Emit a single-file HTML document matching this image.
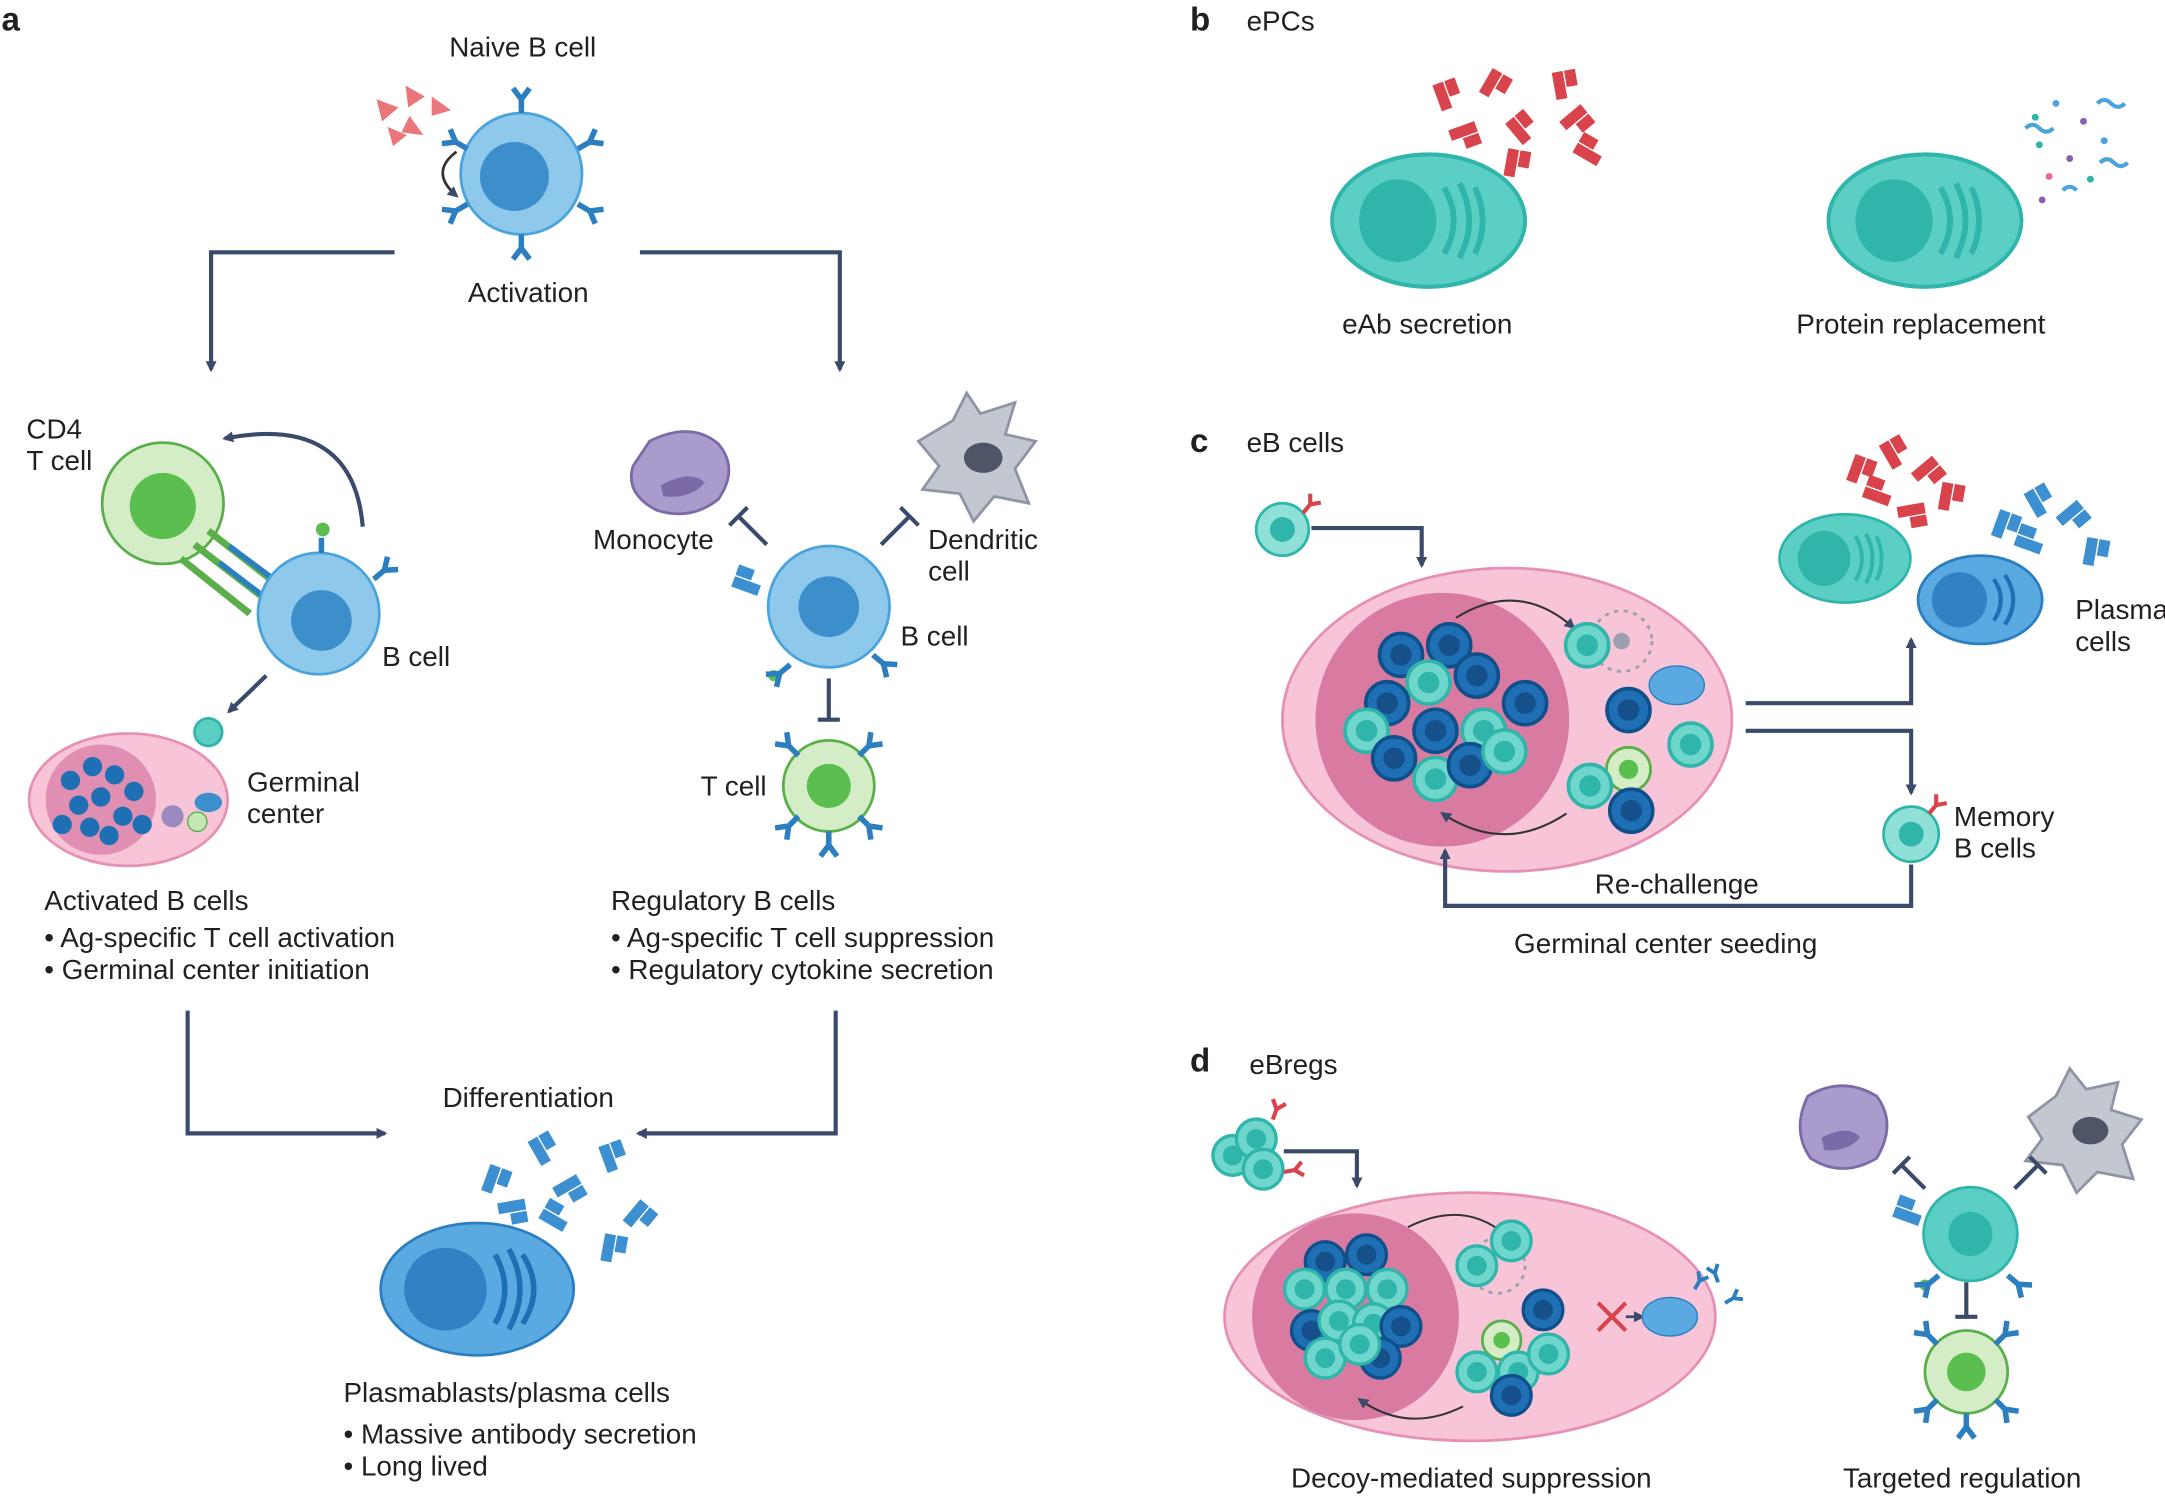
<!DOCTYPE html>
<html><head><meta charset="utf-8"><style>
html,body{margin:0;padding:0;background:#fff}
svg{display:block}
text{font-family:"Liberation Sans",sans-serif;fill:#231f20;font-size:20.2px}
.b{font-weight:bold;font-size:24px}
</style></head><body>
<svg width="2165" height="1496" viewBox="0 0 1568 1085" xmlns="http://www.w3.org/2000/svg">
<defs>
<marker id="ar" markerWidth="8" markerHeight="8" refX="6" refY="4" orient="auto" markerUnits="userSpaceOnUse"><path d="M0,0 L8,4 L0,8 Z" fill="#3a4a6b"/></marker>
<g id="ab"><path d="M0,0 L0,-10 M0,-10 L-6,-18 M0,-10 L6,-18" stroke="#2b7fc0" stroke-width="4" fill="none"/></g>
<g id="abr"><path d="M0,0 L0,-8 M0,-8 L-5,-14 M0,-8 L5,-14" stroke="#d9434b" stroke-width="3" fill="none"/></g>
<g id="fab"><rect x="-4" y="-10" width="8" height="20" fill="#3c8fd0"/><rect x="5" y="-10" width="8" height="12" fill="#3c8fd0"/></g>
<g id="fabr"><rect x="-4" y="-10" width="8" height="20" fill="#d9434b"/><rect x="5" y="-10" width="8" height="12" fill="#d9434b"/></g>
<g id="bc"><circle r="12" fill="#1f6fb5" stroke="#0f4f8a" stroke-width="2"/><circle r="6" fill="#15508a"/></g>
<g id="tc"><circle r="12" fill="#6fd6cc" stroke="#2fb5aa" stroke-width="2"/><circle r="6" fill="#2fb5aa"/></g>
<g id="pcT"><ellipse rx="50" ry="32" fill="#5ccfc4" stroke="#2fb5aa" stroke-width="2"/><circle cx="-16" cy="0" r="20" fill="#2fb5aa"/><path d="M8,-16 Q18,0 8,16 M16,-18 Q26,0 16,18 M24,-16 Q32,0 24,16" stroke="#2fb5aa" stroke-width="3" fill="none"/></g>
</defs>

<!-- Panel a -->
<text class="b" x="0" y="22">a</text>
<text x="378" y="41" text-anchor="middle">Naive B cell</text>
<g fill="#e8767a"><path d="M272,72 L288,78 L276,88Z"/><path d="M293,62 L307,70 L295,78Z"/><path d="M312,70 L326,80 L312,84Z"/><path d="M280,92 L294,98 L284,106Z"/><path d="M296,84 L306,98 L290,96Z"/></g>
<path d="M330,110 Q310,125 330,142" stroke="#333" stroke-width="2" fill="none" marker-end="url(#ar)"/>
<circle cx="377" cy="126" r="44" fill="#8ec9ec" stroke="#4aa3dc" stroke-width="2"/>
<circle cx="372" cy="128" r="25" fill="#3d8fcc"/>
<use href="#ab" transform="translate(377,82)"/><use href="#ab" transform="translate(377,170) rotate(180)"/>
<use href="#ab" transform="translate(418,108) rotate(60)"/><use href="#ab" transform="translate(418,148) rotate(120)"/>
<use href="#ab" transform="translate(338,108) rotate(-60)"/><use href="#ab" transform="translate(338,148) rotate(-120)"/>
<text x="382" y="219" text-anchor="middle">Activation</text>
<path d="M285,183 L152,183 L152,268" stroke="#3a4a6b" stroke-width="3" fill="none" marker-end="url(#ar)"/>
<path d="M463,183 L608,183 L608,268" stroke="#3a4a6b" stroke-width="3" fill="none" marker-end="url(#ar)"/>

<text x="18" y="318">CD4</text><text x="18" y="341">T cell</text>
<circle cx="117" cy="365" r="44" fill="#d5edc6" stroke="#5aaf4a" stroke-width="2"/>
<circle cx="117" cy="367" r="24" fill="#5bbf4f"/>
<path d="M262,382 Q255,300 162,318" stroke="#3a4a6b" stroke-width="3" fill="none" marker-end="url(#ar)"/>
<path d="M150,385 L195,420 M140,395 L188,432 M130,405 L180,445" stroke="#5aaf4a" stroke-width="5"/>
<path d="M165,396 L200,422 M158,408 L192,434" stroke="#2b7fc0" stroke-width="4"/>
<circle cx="230" cy="445" r="44" fill="#8ec9ec" stroke="#4aa3dc" stroke-width="2"/>
<circle cx="232" cy="450" r="22" fill="#3d8fcc"/>
<path d="M232,401 L232,390" stroke="#2b7fc0" stroke-width="4"/><circle cx="233" cy="384" r="5" fill="#5bbf4f"/>
<use href="#ab" transform="translate(270,420) rotate(50)"/>
<text x="276" y="483">B cell</text>
<path d="M192,490 L165,516" stroke="#3a4a6b" stroke-width="3" marker-end="url(#ar)"/>
<circle cx="150" cy="531" r="10" fill="#5ccfc4" stroke="#2fb5aa" stroke-width="2"/>
<ellipse cx="92" cy="580" rx="72" ry="48" fill="#f7c4d8" stroke="#e690b5" stroke-width="2"/>
<ellipse cx="72" cy="580" rx="40" ry="40" fill="#e08fb2"/>
<g fill="#1f6fb5"><circle cx="50" cy="566" r="7"/><circle cx="66" cy="556" r="7"/><circle cx="82" cy="562" r="7"/><circle cx="96" cy="574" r="7"/><circle cx="56" cy="584" r="7"/><circle cx="72" cy="578" r="7"/><circle cx="88" cy="592" r="7"/><circle cx="64" cy="600" r="7"/><circle cx="44" cy="598" r="7"/><circle cx="78" cy="606" r="7"/><circle cx="102" cy="598" r="7"/></g>
<circle cx="124" cy="592" r="8" fill="#9b8ac0"/><circle cx="142" cy="596" r="7" fill="#c5e6b5" stroke="#5aaf4a"/><ellipse cx="150" cy="582" rx="10" ry="7" fill="#3d8fcc"/>
<text x="178" y="574">Germinal</text><text x="178" y="597">center</text>
<text x="31" y="660">Activated B cells</text>
<text x="31" y="687">• Ag-specific T cell activation</text>
<text x="31" y="710">• Germinal center initiation</text>

<path d="M470,320 Q500,305 520,322 Q535,340 520,362 Q500,378 475,370 Q452,358 458,338 Z" fill="#a99bcc" stroke="#7c6aa8" stroke-width="2"/>
<path d="M478,352 Q500,340 510,350 Q500,362 480,360Z" fill="#7c6aa8"/>
<text x="429" y="398">Monocyte</text>
<path d="M665,320 L690,305 L700,285 L710,300 L735,292 L728,315 L750,320 L735,340 L745,365 L720,360 L705,378 L695,358 L668,355 L680,338 Z" fill="#c3c7d0" stroke="#8e94a3" stroke-width="2"/>
<ellipse cx="712" cy="332" rx="14" ry="11" fill="#4e5566"/>
<text x="672" y="398">Dendritic</text><text x="672" y="421">cell</text>
<path d="M555,395 L535,375 M528,381 L541,368" stroke="#3a4a6b" stroke-width="3"/>
<path d="M638,395 L658,375 M652,368 L665,381" stroke="#3a4a6b" stroke-width="3"/>
<circle cx="600" cy="440" r="44" fill="#8ec9ec" stroke="#4aa3dc" stroke-width="2"/>
<circle cx="600" cy="440" r="22" fill="#3d8fcc"/>
<use href="#fab" transform="translate(540,425) rotate(-70)"/>
<circle cx="560" cy="490" r="4" fill="#5bbf4f"/><use href="#ab" transform="translate(572,482) rotate(-130)"/>
<use href="#ab" transform="translate(632,475) rotate(130)"/>
<text x="652" y="468">B cell</text>
<path d="M600,492 L600,522 M592,522 L608,522" stroke="#3a4a6b" stroke-width="3"/>
<circle cx="600" cy="570" r="33" fill="#d5edc6" stroke="#5aaf4a" stroke-width="2"/>
<circle cx="600" cy="570" r="16" fill="#5bbf4f"/>
<use href="#ab" transform="translate(578,548) rotate(-45)"/><use href="#ab" transform="translate(622,548) rotate(45)"/>
<use href="#ab" transform="translate(578,592) rotate(-135)"/><use href="#ab" transform="translate(622,592) rotate(135)"/><use href="#ab" transform="translate(600,603) rotate(180)"/>
<text x="507" y="577">T cell</text>
<text x="442" y="660">Regulatory B cells</text>
<text x="442" y="687">• Ag-specific T cell suppression</text>
<text x="442" y="710">• Regulatory cytokine secretion</text>

<path d="M135,733 L135,822 L278,822" stroke="#3a4a6b" stroke-width="3" fill="none" marker-end="url(#ar)"/>
<path d="M605,733 L605,822 L462,822" stroke="#3a4a6b" stroke-width="3" fill="none" marker-end="url(#ar)"/>
<text x="382" y="803" text-anchor="middle">Differentiation</text>
<g>
<use href="#fab" transform="translate(355,855) rotate(20)"/><use href="#fab" transform="translate(390,835) rotate(-30)"/><use href="#fab" transform="translate(410,860) rotate(60)"/><use href="#fab" transform="translate(440,840) rotate(-20)"/><use href="#fab" transform="translate(460,880) rotate(40)"/><use href="#fab" transform="translate(400,885) rotate(-60)"/><use href="#fab" transform="translate(370,875) rotate(80)"/><use href="#fab" transform="translate(440,905) rotate(10)"/>
</g>
<ellipse cx="345" cy="935" rx="70" ry="48" fill="#5aa9e0" stroke="#2b7fc0" stroke-width="2"/>
<circle cx="322" cy="935" r="30" fill="#3182c4"/>
<path d="M358,910 Q372,935 358,960 M368,906 Q384,935 368,964 M378,910 Q394,935 378,960" stroke="#1f6fb5" stroke-width="4" fill="none"/>
<text x="248" y="1017">Plasmablasts/plasma cells</text>
<text x="248" y="1047">• Massive antibody secretion</text>
<text x="248" y="1070">• Long lived</text>

<!-- Panel b -->
<text class="b" x="862" y="22">b</text><text x="903" y="22">ePCs</text>
<g>
<use href="#fabr" transform="translate(1045,70) rotate(-20)"/><use href="#fabr" transform="translate(1080,60) rotate(30)"/><use href="#fabr" transform="translate(1130,62) rotate(-10)"/><use href="#fabr" transform="translate(1060,95) rotate(70)"/><use href="#fabr" transform="translate(1100,95) rotate(-40)"/><use href="#fabr" transform="translate(1140,85) rotate(50)"/><use href="#fabr" transform="translate(1095,118) rotate(10)"/><use href="#fabr" transform="translate(1150,112) rotate(-60)"/>
</g>
<g transform="translate(1035,160) scale(1.4,1.5)"><use href="#pcT"/></g>
<text x="1034" y="242" text-anchor="middle">eAb secretion</text>
<g fill="#4aa3dc"><circle cx="1490" cy="75" r="2.5"/><circle cx="1510" cy="88" r="2.5" fill="#8a5fb0"/><circle cx="1478" cy="105" r="2.5" fill="#2fb5aa"/><circle cx="1500" cy="115" r="2.5" fill="#8a5fb0"/><circle cx="1525" cy="102" r="2.5"/><circle cx="1485" cy="128" r="2.5" fill="#e06aa0"/><circle cx="1515" cy="130" r="2.5" fill="#2fb5aa"/><circle cx="1475" cy="85" r="2.5" fill="#2fb5aa"/><circle cx="1480" cy="145" r="2.5" fill="#8a5fb0"/></g>
<path d="M1468,93 q5,-5 10,0 t10,0 M1520,75 q5,-5 10,0 t10,0 M1522,118 q5,-5 10,0 t10,0 M1495,138 q5,-5 10,0" stroke="#4aa3dc" stroke-width="3" fill="none"/>
<g transform="translate(1395,160) scale(1.4,1.5)"><use href="#pcT"/></g>
<text x="1392" y="242" text-anchor="middle">Protein replacement</text>

<!-- Panel c -->
<text class="b" x="862" y="328">c</text><text x="903" y="328">eB cells</text>
<circle cx="929" cy="384" r="19" fill="#8fe0d6" stroke="#2fb5aa" stroke-width="2"/><circle cx="929" cy="384" r="9" fill="#2fb5aa"/>
<use href="#abr" transform="translate(944,372) rotate(40)"/>
<path d="M950,383 L1030,383 L1030,410" stroke="#3a4a6b" stroke-width="3" fill="none" marker-end="url(#ar)"/>
<ellipse cx="1092" cy="522" rx="163" ry="110" fill="#f7c4d8" stroke="#e690b5" stroke-width="2"/>
<ellipse cx="1045" cy="522" rx="92" ry="92" fill="#d97ba1"/>
<g><use href="#bc" transform="translate(1015,475) scale(1.3)"/><use href="#bc" transform="translate(1050,468) scale(1.3)"/><use href="#tc" transform="translate(1035,495) scale(1.3)"/><use href="#bc" transform="translate(1070,490) scale(1.3)"/><use href="#bc" transform="translate(1005,510) scale(1.3)"/><use href="#tc" transform="translate(990,530) scale(1.3)"/><use href="#bc" transform="translate(1040,530) scale(1.3)"/><use href="#tc" transform="translate(1075,530) scale(1.3)"/><use href="#bc" transform="translate(1105,510) scale(1.3)"/><use href="#bc" transform="translate(1010,550) scale(1.3)"/><use href="#tc" transform="translate(1040,565) scale(1.3)"/><use href="#bc" transform="translate(1065,555) scale(1.3)"/><use href="#tc" transform="translate(1090,545) scale(1.3)"/></g>
<path d="M1055,448 Q1100,420 1140,455" stroke="#333" stroke-width="1.5" fill="none" marker-end="url(#ar)"/>
<path d="M1135,590 Q1090,620 1045,590" stroke="#333" stroke-width="1.5" fill="none" marker-end="url(#ar)"/>
<circle cx="1175" cy="465" r="22" fill="none" stroke="#9aa0ad" stroke-width="2" stroke-dasharray="3 4"/><circle cx="1175" cy="465" r="6" fill="#9aa0ad"/>
<use href="#tc" transform="translate(1150,468) scale(1.3)"/><use href="#bc" transform="translate(1180,515) scale(1.3)"/>
<ellipse cx="1215" cy="497" rx="20" ry="14" fill="#5aa9e0" stroke="#2b7fc0"/>
<use href="#tc" transform="translate(1225,540) scale(1.3)"/>
<circle cx="1180" cy="558" r="16" fill="#d5edc6" stroke="#5aaf4a" stroke-width="2"/><circle cx="1180" cy="558" r="7" fill="#5bbf4f"/>
<use href="#tc" transform="translate(1152,570) scale(1.3)"/><use href="#bc" transform="translate(1182,588) scale(1.3)"/>
<g><use href="#fabr" transform="translate(1345,340) rotate(20)"/><use href="#fabr" transform="translate(1370,330) rotate(-30)"/><use href="#fabr" transform="translate(1395,340) rotate(50)"/><use href="#fabr" transform="translate(1360,360) rotate(-70)"/><use href="#fabr" transform="translate(1410,360) rotate(10)"/><use href="#fabr" transform="translate(1385,370) rotate(80)"/></g>
<g transform="translate(1337,405) scale(0.95,1)"><use href="#pcT"/></g>
<g><use href="#fab" transform="translate(1450,380) rotate(20)"/><use href="#fab" transform="translate(1475,365) rotate(-30)"/><use href="#fab" transform="translate(1500,372) rotate(50)"/><use href="#fab" transform="translate(1470,395) rotate(-70)"/><use href="#fab" transform="translate(1515,400) rotate(10)"/></g>
<ellipse cx="1435" cy="435" rx="45" ry="32" fill="#5aa9e0" stroke="#2b7fc0" stroke-width="2"/><circle cx="1420" cy="435" r="20" fill="#3182c4"/>
<path d="M1445,420 Q1455,435 1445,450 M1453,417 Q1465,435 1453,453" stroke="#1f6fb5" stroke-width="3" fill="none"/>
<text x="1504" y="449">Plasma</text><text x="1504" y="472">cells</text>
<path d="M1265,510 L1385,510 L1385,464" stroke="#3a4a6b" stroke-width="3" fill="none" marker-end="url(#ar)"/>
<path d="M1265,530 L1385,530 L1385,575" stroke="#3a4a6b" stroke-width="3" fill="none" marker-end="url(#ar)"/>
<circle cx="1385" cy="605" r="20" fill="#8fe0d6" stroke="#2fb5aa" stroke-width="2"/><circle cx="1385" cy="605" r="9" fill="#2fb5aa"/>
<use href="#abr" transform="translate(1398,590) rotate(40)"/>
<text x="1416" y="599">Memory</text><text x="1416" y="622">B cells</text>
<path d="M1385,627 L1385,657 L1047,657 L1047,617" stroke="#3a4a6b" stroke-width="3" fill="none" marker-end="url(#ar)"/>
<text x="1215" y="648" text-anchor="middle">Re-challenge</text>
<text x="1207" y="691" text-anchor="middle">Germinal center seeding</text>

<!-- Panel d -->
<text class="b" x="862" y="777">d</text><text x="905" y="779">eBregs</text>
<use href="#tc" transform="translate(893,838) scale(1.2)"/><use href="#tc" transform="translate(910,826) scale(1.2)"/><use href="#tc" transform="translate(915,848) scale(1.2)"/>
<use href="#abr" transform="translate(922,812) rotate(20)"/><use href="#abr" transform="translate(930,850) rotate(80)"/>
<path d="M930,835 L983,835 L983,860" stroke="#3a4a6b" stroke-width="3" fill="none" marker-end="url(#ar)"/>
<ellipse cx="1065" cy="955" rx="178" ry="90" fill="#f7c4d8" stroke="#e690b5" stroke-width="2"/>
<ellipse cx="982" cy="955" rx="75" ry="75" fill="#d97ba1"/>
<g><use href="#bc" transform="translate(960,915) scale(1.2)"/><use href="#bc" transform="translate(990,910) scale(1.2)"/><use href="#tc" transform="translate(945,935) scale(1.2)"/><use href="#tc" transform="translate(975,935) scale(1.2)"/><use href="#tc" transform="translate(1005,935) scale(1.2)"/><use href="#bc" transform="translate(950,965) scale(1.2)"/><use href="#tc" transform="translate(970,958) scale(1.2)"/><use href="#tc" transform="translate(995,960) scale(1.2)"/><use href="#bc" transform="translate(1015,962) scale(1.2)"/><use href="#tc" transform="translate(960,985) scale(1.2)"/><use href="#bc" transform="translate(1000,985) scale(1.2)"/><use href="#tc" transform="translate(985,975) scale(1.2)"/></g>
<path d="M1020,890 Q1060,870 1090,895" stroke="#333" stroke-width="1.5" fill="none" marker-end="url(#ar)"/>
<path d="M1060,1020 Q1020,1040 985,1015" stroke="#333" stroke-width="1.5" fill="none" marker-end="url(#ar)"/>
<circle cx="1085" cy="918" r="20" fill="none" stroke="#9aa0ad" stroke-width="2" stroke-dasharray="3 4"/>
<use href="#tc" transform="translate(1070,918) scale(1.2)"/><use href="#tc" transform="translate(1095,900) scale(1.2)"/><use href="#bc" transform="translate(1118,950) scale(1.2)"/>
<circle cx="1088" cy="972" r="14" fill="#d5edc6" stroke="#5aaf4a" stroke-width="2"/><circle cx="1088" cy="972" r="6" fill="#5bbf4f"/>
<use href="#tc" transform="translate(1070,995) scale(1.2)"/><use href="#tc" transform="translate(1100,995) scale(1.2)"/><use href="#tc" transform="translate(1122,982) scale(1.2)"/><use href="#bc" transform="translate(1095,1012) scale(1.2)"/>
<path d="M1158,945 L1178,965 M1178,945 L1158,965" stroke="#d9434b" stroke-width="3"/>
<path d="M1178,955 L1190,955" stroke="#3a4a6b" stroke-width="2" marker-end="url(#ar)"/>
<ellipse cx="1210" cy="955" rx="20" ry="14" fill="#5aa9e0" stroke="#2b7fc0"/>
<use href="#ab" transform="translate(1228,935) rotate(30) scale(0.7)"/><use href="#ab" transform="translate(1245,930) rotate(-20) scale(0.7)"/><use href="#ab" transform="translate(1250,945) rotate(60) scale(0.7)"/>
<path d="M1310,795 Q1335,780 1360,795 Q1375,815 1360,840 Q1335,855 1312,840 Q1298,820 1310,795Z" fill="#a99bcc" stroke="#7c6aa8" stroke-width="2"/>
<path d="M1320,825 Q1340,815 1348,825 Q1338,836 1322,834Z" fill="#7c6aa8"/>
<path d="M1470,810 L1490,795 L1500,775 L1512,790 L1535,785 L1530,805 L1552,812 L1538,830 L1546,855 L1520,850 L1505,865 L1495,845 L1468,842 L1480,826 Z" fill="#c3c7d0" stroke="#8e94a3" stroke-width="2"/>
<ellipse cx="1515" cy="820" rx="13" ry="10" fill="#4e5566"/>
<path d="M1395,862 L1378,845 M1372,851 L1384,839" stroke="#3a4a6b" stroke-width="3"/>
<path d="M1460,862 L1477,845 M1471,839 L1483,851" stroke="#3a4a6b" stroke-width="3"/>
<circle cx="1428" cy="895" r="34" fill="#5ccfc4" stroke="#2fb5aa" stroke-width="2"/><circle cx="1428" cy="895" r="16" fill="#2fb5aa"/>
<use href="#fab" transform="translate(1382,882) rotate(-70)"/><circle cx="1395" cy="932" r="4" fill="#5bbf4f"/><use href="#ab" transform="translate(1405,925) rotate(-130)"/><use href="#ab" transform="translate(1455,925) rotate(130)"/>
<path d="M1425,930 L1425,955 M1417,955 L1433,955" stroke="#3a4a6b" stroke-width="3"/>
<circle cx="1425" cy="995" r="30" fill="#d5edc6" stroke="#5aaf4a" stroke-width="2"/><circle cx="1425" cy="995" r="14" fill="#5bbf4f"/>
<use href="#ab" transform="translate(1404,975) rotate(-45)"/><use href="#ab" transform="translate(1446,975) rotate(45)"/><use href="#ab" transform="translate(1404,1015) rotate(-135)"/><use href="#ab" transform="translate(1446,1015) rotate(135)"/><use href="#ab" transform="translate(1425,1025) rotate(180)"/>
<text x="1066" y="1079" text-anchor="middle">Decoy-mediated suppression</text>
<text x="1422" y="1079" text-anchor="middle">Targeted regulation</text>
</svg>
</body></html>
